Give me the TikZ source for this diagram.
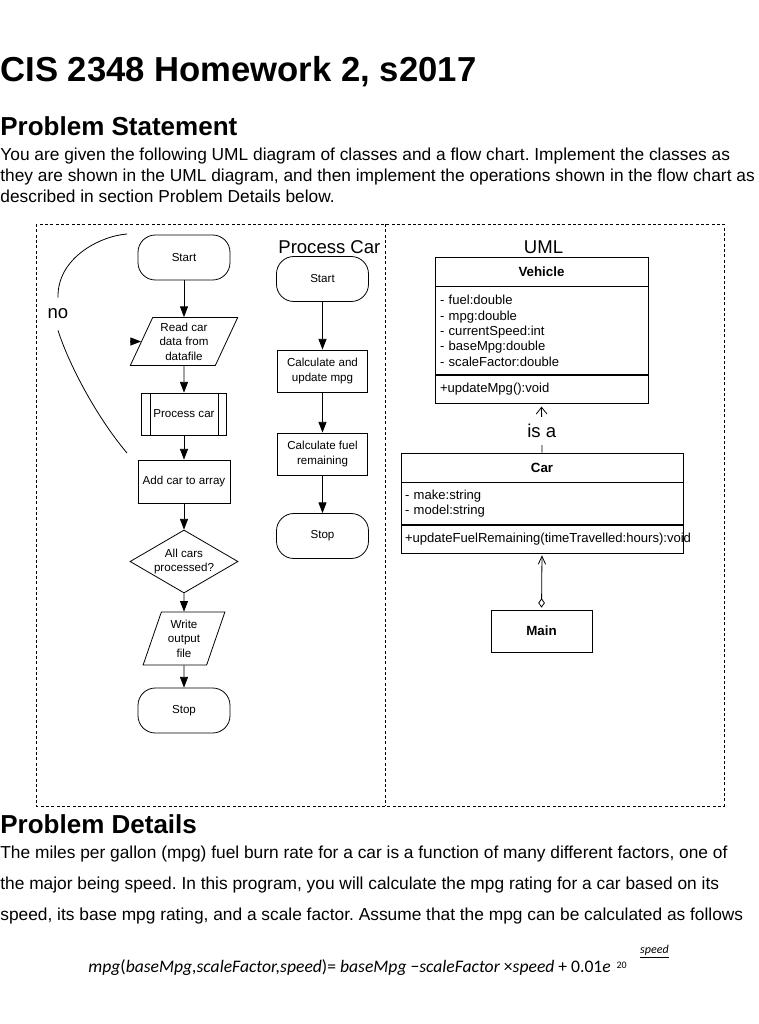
\documentclass[tikz,border=0pt]{standalone}
\usepackage{fontspec}
\setmainfont{Liberation Sans}
\newfontfamily\calibrifont{Carlito}
\usetikzlibrary{shapes.geometric}
\usetikzlibrary{arrows.meta}
\frenchspacing

\begin{document}
\begin{tikzpicture}[x=0.75pt, y=-0.75pt, line width=0.6pt,
  every node/.style={inner sep=0pt},
  flowtext/.style={font=\fontsize{8.7}{10.9}\selectfont, align=center},
  umltext/.style={font=\fontsize{9.8}{11.6}\selectfont},
  bigtext/.style={font=\fontsize{13.9}{16}\selectfont},
  terminal/.style={flowtext, draw, rounded corners=13pt, minimum width=69pt, minimum height=33.75pt},
  procbox/.style={flowtext, draw, minimum width=67.5pt, minimum height=31.5pt},
  iobox/.style={flowtext, draw, trapezium, trapezium left angle=#1, trapezium right angle=180-#1, minimum height=32.25pt},
  decision/.style={flowtext, draw, diamond, aspect=1.7, minimum width=81pt, minimum height=47.25pt},
  classhead/.style={umltext, draw, font=\bfseries\fontsize{10}{12}\selectfont, minimum height=21.75pt},
  classpart/.style={umltext, draw, align=left, inner xsep=3.75pt},
  flowarrow/.style={-{Triangle[length=8pt,width=6pt]}},
  bodyline/.style={anchor=base west, font=\fontsize{13}{15}\selectfont},
  heading/.style={anchor=base west, font=\bfseries\fontsize{19.5}{22}\selectfont},
  frameline/.style={dash pattern=on 2.2pt off 1.8pt}
]
\useasboundingbox (0,0) rectangle (758,1024);

% header text
\node[anchor=base west, font=\bfseries\fontsize{26}{30}\selectfont] (title) at (0,82) {CIS 2348 Homework 2, s2017};
\node[heading] (stmthead) at (0,135) {Problem Statement};
\node[bodyline] (stmt1) at (0,160) {You are given the following UML diagram of classes and a flow chart. Implement the classes as};
\node[bodyline] (stmt2) at (0,181) {they are shown in the UML diagram, and then implement the operations shown in the flow chart as};
\node[bodyline] (stmt3) at (0,202) {described in section Problem Details below.};

% frame
\draw [frameline] (36,224) rectangle (724,806);
\draw [frameline] (385,224) -- (385,806);

% main flow chart
\node[terminal] (mainstart) at (184,257.5) {Start};
\node[iobox=65, minimum width=81pt] (readcar) at (184,341.5) {Read car\\data from\\datafile};
\node[procbox, minimum width=63.75pt] (proccar) at (184,414) {Process car};
\draw ([xshift=6.75pt]proccar.north west) -- ([xshift=6.75pt]proccar.south west);
\draw ([xshift=-6.75pt]proccar.north east) -- ([xshift=-6.75pt]proccar.south east);
\node[procbox, minimum width=69pt, minimum height=32.25pt] (addcar) at (184,481.5) {Add car to array};
\node[decision] (allcars) at (184,561.5) {All cars\\processed?};
\node[iobox=71, minimum width=61.5pt] (writeout) at (184,638.5) {Write\\output\\file};
\node[terminal] (mainstop) at (184,710.5) {Stop};

\draw [flowarrow] (mainstart) -- (readcar);
\draw [flowarrow] (readcar) -- (proccar);
\draw [flowarrow] (proccar) -- (addcar);
\draw [flowarrow] (addcar) -- (allcars);
\draw [flowarrow] (allcars) -- (writeout);
\draw [flowarrow] (writeout) -- (mainstop);

% no loop
\node[bigtext, minimum height=24pt] (no) at (58,314) {no};
\coordinate (loopTop) at (127,234);
\coordinate (loopBot) at (127,453);
\draw (loopTop) .. controls (100,236) and (57,258) .. (no.north);
\draw (no.south) .. controls (68,362) and (95,415) .. (loopBot);
\draw [flowarrow] ([xshift=-8pt]readcar.west) -- (readcar.west);

% process car flow chart
\node[bigtext, anchor=base west] (pctitle) at (278,253) {Process Car};
\node[terminal] (pcstart) at (322.5,279) {Start};
\node[procbox] (calcmpg) at (322.5,371) {Calculate and\\update mpg};
\node[procbox] (calcfuel) at (322.5,454) {Calculate fuel\\remaining};
\node[terminal] (pcstop) at (322.5,536) {Stop};

\draw [flowarrow] (pcstart) -- (calcmpg);
\draw [flowarrow] (calcmpg) -- (calcfuel);
\draw [flowarrow] (calcfuel) -- (pcstop);

% uml
\node[bigtext, anchor=base] (umltitle) at (543.5,253) {UML};
\node[classhead, minimum width=159.75pt] (vehicle) at (541.5,271.5) {Vehicle};
\node[classpart, anchor=north, text width=152.25pt, minimum height=66pt] (vehicleattr) at (vehicle.south)
  {- fuel:double\\- mpg:double\\- currentSpeed:int\\- baseMpg:double\\- scaleFactor:double};
\node[classpart, anchor=north, text width=152.25pt, minimum height=21pt] (vehiclemeth) at (vehicleattr.south)
  {+updateMpg():void};

\node[classhead, minimum width=211.5pt] (car) at (542,467.5) {Car};
\node[classpart, anchor=north, text width=205.5pt, inner xsep=3pt, minimum height=31.5pt] (carattr) at (car.south)
  {- make:string\\- model:string};
\node[classpart, anchor=north, text width=205.5pt, inner xsep=3pt, minimum height=21pt] (carmeth) at (carattr.south)
  {\mbox{+updateFuelRemaining(timeTravelled:hours):void}};

\node[classhead, minimum width=75.75pt, minimum height=31.5pt] (mainclass) at (541.5,631) {Main};

\draw [-{Straight Barb[length=5pt,width=8pt]}, shorten >=2pt] (car.north) --
  node[bigtext, fill=white, minimum height=21pt, minimum width=30pt, yshift=-2pt] (isa) {is a} (vehiclemeth.south);
\draw [{Diamond[open,length=7pt,width=5pt]}-{Straight Barb[length=6pt,width=5.5pt]}, shorten <=1.5pt, shorten >=1pt]
  (mainclass.north) -- (carmeth.south);

% details text
\node[heading] (detailhead) at (0,833) {Problem Details};
\node[bodyline] (detail1) at (0,858) {The miles per gallon (mpg) fuel burn rate for a car is a function of many different factors, one of};
\node[bodyline] (detail2) at (0,889) {the major being speed. In this program, you will calculate the mpg rating for a car based on its};
\node[bodyline] (detail3) at (0,920) {speed, its base mpg rating, and a scale factor. Assume that the mpg can be calculated as follows};

% formula
\node[anchor=base west, font=\calibrifont\fontsize{13.2}{15}\selectfont] (formula) at (88,972)
  {\textit{mpg}(\textit{baseMpg,scaleFactor,speed})= \textit{baseMpg} −\textit{scaleFactor} ×\textit{speed} + 0.01\textit{e}};
\node[anchor=base west, font=\calibrifont\fontsize{7.5}{9}\selectfont] (fexp) at ([xshift=3.75pt,yshift=3pt]formula.base east) {20};
\node[anchor=base west, font=\calibrifont\itshape\fontsize{9}{10}\selectfont] (fspeed) at ([xshift=9.5pt,yshift=11pt]fexp.base east) {\underline{speed}};
\end{tikzpicture}
\end{document}
